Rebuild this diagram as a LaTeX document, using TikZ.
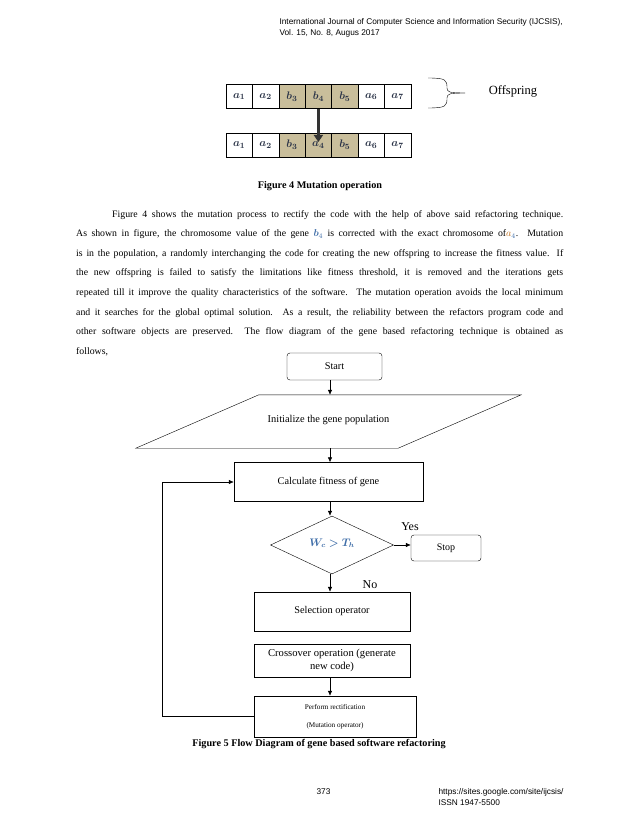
\documentclass[tikz,border=0pt]{standalone}
\usepackage{bm}
\usepackage{fontspec}
\setmainfont{Liberation Serif}
\setsansfont{Liberation Sans}
\usetikzlibrary{arrows.meta,positioning,calc,shapes.geometric}
\definecolor{genetan}{HTML}{C9BE9B}
\definecolor{geneink}{HTML}{2B3448}
\definecolor{condblue}{HTML}{3E6DA8}
\definecolor{codeorange}{HTML}{C0701E}
\newcommand{\pline}[1]{\hbox to 487pt{#1}}

\begin{document}
\begin{tikzpicture}[x=1pt,y=-1pt,
  cell/.style={draw,minimum width=26.4pt,minimum height=24pt,inner sep=0pt,
    font=\fontsize{11}{13}\selectfont,text=geneink},
  flowbox/.style={draw,fill=white,align=center,inner sep=1pt,
    font=\fontsize{10.3}{12.5}\selectfont},
  termbox/.style={flowbox,rounded corners=3pt},
  arr/.style={-{Latex[length=5pt,width=4.5pt]},semithick},
  captext/.style={font=\bfseries\fontsize{10.2}{12}\selectfont},
  small/.style={font=\sffamily\fontsize{8.3}{10.5}\selectfont,align=left,anchor=west}
]
\fill[white] (0,0) rectangle (638,826);
\useasboundingbox (0,0) rectangle (638,826);

% running head
\node[small] (head) at (276,28) {International Journal of Computer Science and Information Security (IJCSIS),\\
  Vol. 15, No. 8, Augus 2017};

% chromosomes before and after mutation
\foreach \lab/\shade [count=\i] in {a_1/white,a_2/white,b_3/genetan,b_4/genetan,b_5/genetan,a_6/white,a_7/white}
  \node[cell,fill=\shade] (t\i) at (239.2+26.4*\i-26.4,96.5) {$\bm{\lab}$};
\foreach \lab/\shade [count=\i] in {a_1/white,a_2/white,b_3/genetan,a_4/genetan,b_5/genetan,a_6/white,a_7/white}
  \node[cell,fill=\shade] (b\i) at (239.2+26.4*\i-26.4,145) {$\bm{\lab}$};
\draw[line width=3pt,black!80,-{Triangle[length=7pt,width=9pt]},shorten >=3pt] (t4.south) -- (b4.center);
\draw (428,78) .. controls (446,78) and (447,80) .. (447,88)
  .. controls (447,92) and (449,93) .. (465,93);
\draw (428,108) .. controls (446,108) and (447,106) .. (447,98)
  .. controls (447,94) and (449,93) .. (465,93);
\node[font=\fontsize{12.5}{14}\selectfont] (offs) at (513,91) {Offspring};
\node[captext] (cap4) at (320,186) {Figure 4 Mutation operation};

% body text
\node[anchor=north west,inner sep=0pt,font=\fontsize{9.8}{19.6}\selectfont] (body) at (76,210) {\vbox{\baselineskip=19.6pt
  \pline{\hspace*{36pt}Figure 4 shows the mutation process to rectify the code with the help of above said refactoring technique.}
  \pline{As shown in figure, the chromosome value of the gene {\color{condblue}$\bm{b}_4$} is corrected with the exact chromosome of{\color{codeorange}$a$}{\color{condblue}$_4$}.\ \ Mutation}
  \pline{is in the population, a randomly interchanging the code for creating the new offspring to increase the fitness value. If}
  \pline{the new offspring is failed to satisfy the limitations like fitness threshold, it is removed and the iterations gets}
  \pline{repeated till it improve the quality characteristics of the software. The mutation operation avoids the local minimum}
  \pline{and it searches for the global optimal solution. As a result, the reliability between the refactors program code and}
  \pline{other software objects are preserved.\ \ The flow diagram of the gene based refactoring technique is obtained as}
  \pline{follows,\hfil}}};

% flow diagram
\coordinate (spine) at (330,0);
\node[termbox,minimum width=95pt,minimum height=27pt] (start) at (334.5,366.5) {Start};
\node[minimum width=262pt,minimum height=53pt,inner sep=0pt,
  font=\fontsize{10.4}{12.5}\selectfont] (init) at (328.5,421.5) {\raisebox{5pt}{Initialize the gene population}};
\draw ($(init.north west)+(61.5,0)$) -- ($(init.north east)+(61.5,0)$)
  -- ($(init.south east)+(-61.5,0)$) -- ($(init.south west)+(-61.5,0)$) -- cycle;
\node[flowbox,minimum width=189pt,minimum height=39pt] (fit) at (328.5,482) {Calculate fitness of gene};
\node[draw,diamond,aspect=2.1,minimum width=123pt,minimum height=58pt,inner sep=0pt,
  font=\fontsize{10.5}{12}\selectfont,text=condblue] (cond) at (332,545) {\raisebox{5pt}{$\bm{W_c > T_h}$}};
\node[termbox,minimum width=70pt,minimum height=26pt,font=\fontsize{10}{12}\selectfont] (stop) at (446,548) {Stop};
\node[flowbox,minimum width=156pt,minimum height=39pt] (sel) at (332,611.5) {Selection operator};
\node[flowbox,minimum width=156pt,minimum height=33pt,font=\fontsize{10.6}{13}\selectfont] (cross) at (332,660.5) {Crossover operation (generate\\ new code)};
\node[flowbox,minimum width=162pt,minimum height=41pt,font=\fontsize{7.2}{9}\selectfont] (mut) at (335,716.5) {Perform rectification\\ \rule{0pt}{17pt}(Mutation operator)};
\node[captext] (cap5) at (319,744) {Figure 5 Flow Diagram of gene based software refactoring};

\draw[arr] (start.south -| spine) -- (init.north -| spine);
\draw[arr] (init.south -| spine) -- (fit.north -| spine);
\draw[arr] (fit.south -| spine) -- (cond.north -| spine);
\draw[arr] (cond.east) -- (cond.east -| stop.west);
\draw[arr] (cond.south -| spine) -- (sel.north -| spine);
\draw[arr] (cross.south -| spine) -- (mut.north -| spine);
\draw[arr] (mut.west) -- ++(-92,0) |- (fit.west);
\node[font=\fontsize{12}{14}\selectfont] (yes) at (410,527) {Yes};
\node[font=\fontsize{12}{14}\selectfont] (no) at (370,585) {No};

% footer
\node[small] (page) at (313,792) {373};
\node[small] (site) at (435,797) {https://sites.google.com/site/ijcsis/\\ISSN 1947-5500};
\end{tikzpicture}
\end{document}
